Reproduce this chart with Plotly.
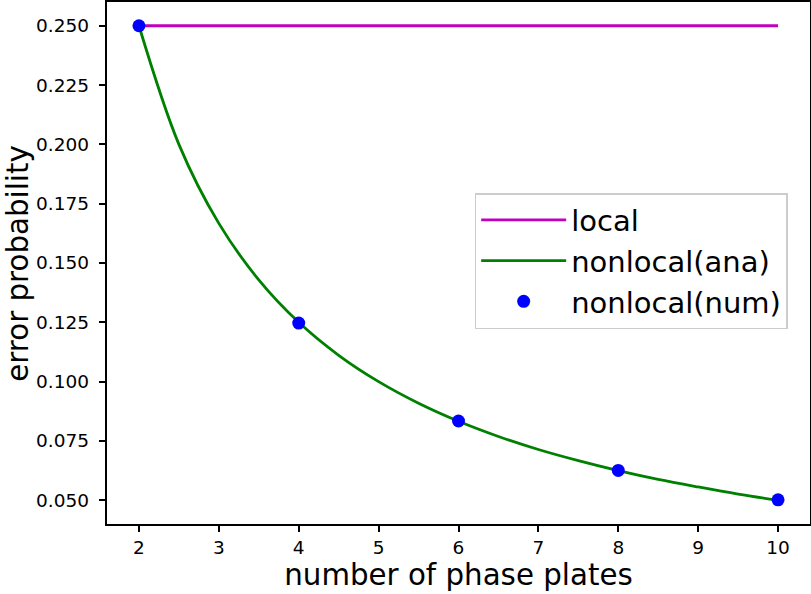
import plotly.graph_objects as go

# data
local_x = [2, 10]
local_y = [0.25, 0.25]

ana_x = [2, 2.5, 3, 3.5, 4, 4.5, 5, 5.5, 6, 6.5, 7, 7.5, 8, 8.5, 9, 9.5, 10]
ana_y = [0.25, 0.2, 0.1667, 0.1429, 0.125, 0.1111, 0.1, 0.0909, 0.0833,
         0.0769, 0.0714, 0.0667, 0.0625, 0.0588, 0.0556, 0.0526, 0.05]

num_x = [2, 4, 6, 8, 10]
num_y = [0.25, 0.1247, 0.0834, 0.0626, 0.0502]
num_err = [0.0, 0.0, 0.0, 0.0, 0.0]

x_ticks = [2, 3, 4, 5, 6, 7, 8, 9, 10]
y_ticks = [0.05, 0.075, 0.1, 0.125, 0.15, 0.175, 0.2, 0.225, 0.25]

x_label = "number of phase plates"
y_label = "error probability"

FONT = "DejaVu Sans"

fig = go.Figure()
fig.add_trace(go.Scatter(x=local_x, y=local_y, mode="lines", name="local",
                         line=dict(color="#bf00bf", width=2.8)))
fig.add_trace(go.Scatter(x=ana_x, y=ana_y, mode="lines", name="nonlocal(ana)",
                         line=dict(color="#008000", width=2.8, shape="spline")))
fig.add_trace(go.Scatter(x=num_x, y=num_y, mode="markers", name="nonlocal(num)",
                         marker=dict(color="#0000ff", size=13),
                         error_y=dict(type="data", array=num_err, color="#ff0000",
                                      thickness=2.5, width=5)))

fig.update_layout(
    width=811, height=594,
    margin=dict(l=107, r=1, t=2, b=70),
    paper_bgcolor="white", plot_bgcolor="white",
    font=dict(family=FONT, color="black"),
    showlegend=True,
    legend=dict(x=0.523, y=0.634, xanchor="left", yanchor="top",
                font=dict(size=29, family=FONT), itemwidth=85,
                bgcolor="rgba(255,255,255,0.8)", bordercolor="#cccccc", borderwidth=1.5),
    xaxis=dict(range=[1.6, 10.4], tickvals=x_ticks, ticks="outside", ticklen=6.5,
               tickwidth=1.5, tickcolor="black", showline=True, linecolor="black",
               linewidth=1.5, mirror=True, showgrid=False, zeroline=False,
               tickfont=dict(size=18.5, family=FONT),
               title=dict(text=x_label, font=dict(size=29.3, family=FONT),
                          standoff=6),
               automargin=False),
    yaxis=dict(range=[0.04, 0.26], tickvals=y_ticks, tickformat=".3f", ticks="outside",
               ticklen=6.5, tickwidth=1.5, tickcolor="black", showline=True,
               linecolor="black", linewidth=1.5, mirror=True, showgrid=False,
               zeroline=False, tickfont=dict(size=18.5, family=FONT),
               ticklabelstandoff=6,
               automargin=False),
    annotations=[dict(text=y_label, xref="paper", yref="paper",
                      x=-0.127, y=0.5, xanchor="center", yanchor="middle",
                      textangle=-90, showarrow=False,
                      font=dict(size=29.3, family=FONT, color="black"))],
)

fig.write_html("out.html")
